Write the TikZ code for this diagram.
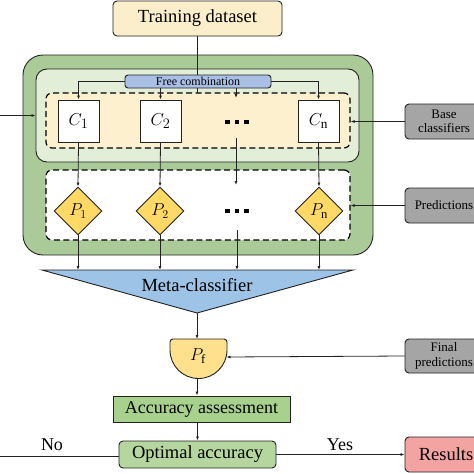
\documentclass[tikz,border=0pt]{standalone}
\usepackage{fontspec}
\setmainfont{Liberation Serif}
\usetikzlibrary{shapes.geometric,arrows.meta}
\definecolor{trainfill}{HTML}{FBEFCB}
\definecolor{outerfill}{HTML}{AACB98}
\definecolor{innerfill}{HTML}{E3EED9}
\definecolor{yelzone}{HTML}{FDF0CF}
\definecolor{fcfill}{HTML}{A9BFE6}
\definecolor{metafill}{HTML}{9DC3E6}
\definecolor{diafill}{HTML}{FFD966}
\definecolor{pffill}{HTML}{FFE08C}
\definecolor{aafill}{HTML}{A9D18E}
\definecolor{oafill}{HTML}{B5D79F}
\definecolor{resfill}{HTML}{F4A3A3}
\definecolor{grayfill}{HTML}{A5A5A5}
\definecolor{edge}{HTML}{222222}
\newcommand{\bigdots}{\rule{4.5pt}{4.5pt}\hspace{5pt}\rule{4.5pt}{4.5pt}\hspace{5pt}\rule{4.5pt}{4.5pt}}
\tikzset{
  box/.style={draw=edge, line width=0.9pt, inner sep=0pt, align=center},
  rbox/.style={box, rounded corners=4pt},
  cbox/.style={box, fill=white, minimum width=41pt, minimum height=42pt, font=\fontsize{19}{19}\selectfont},
  dia/.style={box, shape=diamond, fill=diafill, minimum width=48pt, minimum height=48pt, font=\fontsize{18}{18}\selectfont},
  side/.style={rbox, fill=grayfill, minimum width=78pt, font=\fontsize{13}{14.5}\selectfont},
  zone/.style={draw=black, line width=1.2pt, dash pattern=on 6pt off 3.5pt, rounded corners=6pt, inner sep=0pt},
  arr/.style={draw=edge, line width=0.8pt, -{Latex[length=4pt,width=3pt]}},
  ln/.style={draw=edge, line width=0.8pt},
  dots/.style={inner sep=0pt}
}
\begin{document}
\begin{tikzpicture}[x=1pt,y=-1pt]
\useasboundingbox (0,0) rectangle (474,474);
\clip (0,0) rectangle (474,474);
% containers
\node[box, rounded corners=20pt, fill=outerfill, minimum width=350pt, minimum height=200pt] (outer) at (198,155) {};
\node[box, rounded corners=11pt, fill=innerfill, minimum width=323pt, minimum height=93pt] (inner) at (197.5,115.5) {};
\node[zone, fill=yelzone, minimum width=304pt, minimum height=55pt] (dy) at (198,120.5) {};
\node[zone, fill=white, minimum width=304pt, minimum height=70pt] (dw) at (198,205) {};
% training
\node[rbox, fill=trainfill, minimum width=169pt, minimum height=35pt, font=\fontsize{18.5}{19}\selectfont] (train) at (197.5,18.5) {Training dataset};
\coordinate (trend) at (197.5,93);
\draw[ln] (train.south) -- (trend);
\node[rbox, rounded corners=3pt, fill=fcfill, minimum width=146pt, minimum height=13pt, font=\fontsize{12}{12}\selectfont] (fc) at (198,81.5) {Free combination};
% classifiers
\node[cbox] (c1) at (78.5,121) {$C_{1}$};
\node[cbox] (c2) at (160.5,121) {$C_{2}$};
\node[cbox] (cn) at (318.5,121) {$C_{\mathrm{n}}$};
\node[dots] (dt1) at (237,122) {\bigdots};
\coordinate (dt1top) at (236,98);
\coordinate (dt1bot) at (236,138);
\coordinate (dt2top) at (236,185);
\coordinate (dt2bot) at (237,230);
% predictions
\node[dia] (p1) at (78,211) {$P_{1}$};
\node[dia] (p2) at (160,211) {$P_{2}$};
\node[dia] (pn) at (319,211) {$P_{\mathrm{n}}$};
\node[dots] (dt2) at (237,211) {\bigdots};
% meta classifier
\coordinate (mtop) at (197,270);
\coordinate (mapex) at (197,313);
\path[draw=edge, line width=0.9pt, fill=metafill] (42,270) -- (353,270) -- (mapex) -- cycle;
\node[font=\fontsize{18.5}{19}\selectfont] (meta) at (197,285.5) {Meta-classifier};
% Pf
\path[draw=edge, line width=0.9pt, fill=pffill] (170,350) -- (170,342) arc[start angle=180, end angle=270, radius=3] -- (224,339) arc[start angle=270, end angle=360, radius=3] -- (227,350) arc[start angle=0, end angle=180, radius=28.5] -- cycle;
\coordinate (pftop) at (197,339);
\coordinate (pfbot) at (197,378.5);
\coordinate (pfright) at (226.5,357);
\node[font=\fontsize{18}{18}\selectfont] (pf) at (198,356) {$P_{\mathrm{f}}$};
% lower boxes
\node[box, fill=aafill, minimum width=177pt, minimum height=26pt, font=\fontsize{18}{18}\selectfont] (aa) at (201.5,409) {Accuracy assessment};
\node[rbox, fill=oafill, minimum width=157pt, minimum height=27pt, font=\fontsize{18.5}{19}\selectfont] (oa) at (197.5,454.5) {Optimal accuracy};
\node[rbox, fill=resfill, minimum width=82pt, minimum height=35pt, font=\fontsize{18.5}{19}\selectfont] (res) at (446,454.5) {Results};
% side boxes
\node[side, minimum height=35pt] (base) at (444,121.5) {Base\\classifiers};
\node[side, minimum height=35pt] (pred) at (444,205.5) {Predictions};
\node[side, minimum height=34pt] (fin) at (444,356) {Final\\predictions};
\coordinate (leftin) at (0,115.5);
\coordinate (leftno) at (0,456.5);
% connectors
\draw[arr] (fc.west) -| (c1.north);
\draw[arr] (fc.east) -| (cn.north);
\draw[arr] (fc.south -| c2.north) -- (c2.north);
\draw[arr] (fc.south -| dt1top) -- (dt1top);
\draw[arr] (c1.south) -- (p1.north);
\draw[arr] (c2.south) -- (p2.north);
\draw[arr] (cn.south) -- (pn.north);
\draw[arr] (dt1bot) -- (dt2top);
\draw[arr] (p1.south) -- (p1.south |- mtop);
\draw[arr] (p2.south) -- (p2.south |- mtop);
\draw[arr] (pn.south) -- (pn.south |- mtop);
\draw[arr] (dt2bot) -- (dt2bot |- mtop);
\draw[arr] (mapex) -- (pftop);
\draw[arr] (pfbot) -- (pfbot |- aa.north);
\draw[arr] (aa.south -| oa.north) -- (oa.north);
\draw[arr] (leftin) -- (inner.west);
\draw[arr] (base.west) -- (base.west -| dy.east);
\draw[arr] (pred.west) -- (pred.west -| dw.east);
\draw[arr] (fin.west) -- (pfright);
\draw[ln] (leftno) -- (leftno -| oa.west);
\draw[arr] (oa.east |- res.west) -- (res.west);
\node[font=\fontsize{18}{18}\selectfont] (no) at (52,445) {No};
\node[font=\fontsize{18}{18}\selectfont] (yes) at (340,445) {Yes};
\end{tikzpicture}
\end{document}
